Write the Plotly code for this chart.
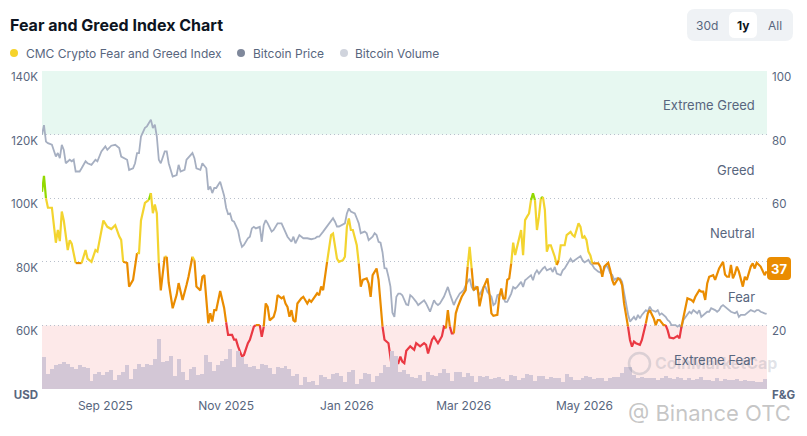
import plotly.graph_objects as go
import pandas as pd

# ---------------- data ----------------
START = pd.Timestamp("2025-07-31")

fg_days = [0, 1, 2, 3, 5, 7, 8, 9, 10, 11, 13, 14, 15, 16, 17, 20, 22, 23, 25, 27, 28,
           31, 33, 35, 37, 39, 40, 41, 43, 44, 46, 48, 49, 50, 52, 54, 55, 56, 57, 58, 59,
           60, 62, 63, 64, 66, 68, 69, 71, 73, 74, 76, 77, 78, 80, 81, 82, 84, 85, 86, 87,
           88, 90, 92, 93, 94, 96, 97, 98, 99, 101, 102, 104, 105, 107, 108, 110, 111, 112,
           113, 114, 115, 117, 118, 119, 121, 122, 123, 124, 125, 126, 127, 128, 129, 131,
           132, 134, 135, 136, 138, 139, 140, 141, 142, 143, 144, 146, 147, 148, 149, 150,
           152, 153, 154, 155, 156, 157, 159, 160, 161, 162, 164, 165, 166, 167, 169, 170,
           171, 172, 173, 175, 176, 177, 179, 180, 181, 182, 183, 184, 186, 188, 189, 191,
           193, 194, 195, 197, 198, 199, 200, 201, 202, 203, 204, 205, 206, 207, 208, 209,
           210, 212, 214, 215, 216, 217, 218, 220, 221, 223, 225, 226, 227, 228, 230, 231,
           232, 233, 234, 235, 236, 237, 238, 239, 241, 242, 243, 244, 245, 246, 247, 248,
           249, 250, 251, 252, 253, 254, 255, 256, 257, 259, 260, 261, 262, 264, 265, 267,
           268, 269, 271, 272, 273, 274, 275, 276, 277, 278, 279, 281, 282, 283, 284, 286,
           287, 288, 289, 291, 292, 293, 294, 295, 296, 297, 298, 299, 300, 302, 303, 304,
           305, 306, 307, 309, 310, 311, 312, 314, 315, 316, 317, 319, 321, 322, 323, 324,
           325, 326, 328, 329, 330, 332, 333, 334, 335, 336, 337, 339, 340, 341, 342, 344,
           345, 346, 347, 348, 349, 350, 351, 352, 353, 354, 355, 356, 358, 359, 360, 361,
           363, 364, 365, 366]
fg_values = [62, 67, 60, 57, 57, 46, 50, 46.5, 55.8, 53, 43.7, 46.8, 45.7, 43, 39.6, 39.6, 43.7, 41, 40, 43.7, 43.2,
             53, 51, 50.3, 51.5, 48, 46.9, 40, 39.6, 32.2, 34.3, 42.7, 42.7, 53, 58.5, 59.5, 61.6, 55.3, 58, 55.3, 39.6,
             31, 41.6, 41.6, 33.4, 25.4, 29.6, 33.3, 28, 32.7, 35.3, 41.6, 40.5, 32.2, 31, 35.3, 35.8, 20.7, 23.8, 21.2, 24.8,
             24.8, 30.8, 25.5, 21, 17, 17, 15.5, 15.5, 13.4, 10.2, 10.7, 14.4, 15.5, 19.6, 20.1, 20.1, 16.4, 19.6,
             26.9, 25.8, 21.6, 22.7, 24.8, 29.5, 28.5, 29, 26.9, 25.8, 22.7, 24.8, 21.6, 21.1, 26.9, 28.5,
             29, 26.9, 28, 27.4, 29, 30.1, 29.5, 32.2, 31.1, 36.3, 40, 48.4, 48.9, 44.7, 41, 40,
             40.5, 41.6, 51, 53.6, 50, 50, 45.2, 39.5, 32.2, 34.3, 34.8, 33.2, 29, 35.8, 37.9, 34.3,
             26.9, 19.6, 15.5, 14.4, 10.2, 5.5, 8.1, 8.1, 10.2, 8.6, 8.1, 12, 13.4, 12.3, 14.4, 13.4,
             14.4, 13.9, 11.2, 15.5, 16.4, 15.5, 14.4, 15.5, 16.6, 19.6, 19.1, 24.8, 19.6, 17.5, 17.5, 23.8,
             25.8, 29, 31.1, 38.5, 44.7, 38, 31.1, 32.2, 26, 31.9, 34.8, 30, 23.8, 23, 23.3, 29,
             31.6, 28.5, 28.5, 34.3, 34.8, 39.5, 46, 42.1, 47.4, 50, 42.1, 53.1, 54.2, 55.2, 59.4, 61.5,
             59.4, 50, 54.2, 60, 60.4, 56.3, 43.2, 45.2, 45.2, 41.6, 39, 40.5, 45.2, 45.2, 48.4, 49.4,
             48.4, 47.9, 52.1, 51, 47.4, 48, 46.9, 43.2, 42, 39.5, 39.5, 39.5, 38.5, 35.3, 38.5, 39.7,
             37.4, 34.3, 32.7, 34.8, 34.3, 32.7, 26.9, 22.7, 19.6, 15.4, 13.3, 14.9, 14.4, 13.9, 15.4, 18.5,
             20.6, 23.8, 24.8, 22.2, 20.1, 21.7, 21.7, 20.1, 20.1, 18.5, 16.2, 15.9, 16.7, 15.9, 19.6, 22.7,
             25.9, 28.5, 28, 27.4, 29, 31.1, 30.6, 30.6, 28, 33.2, 35.3, 35.8, 34.3, 36.3, 37.9, 40,
             36, 35.3, 35.3, 39, 34.8, 36.3, 38.5, 36.9, 34.3, 32.2, 35.3, 34.3, 38.5, 39.5, 37.9, 39.7,
             38.5, 36.9, 35.8, 37]

btc_days = [0, 1, 2, 3, 5, 7, 8, 9, 10, 11, 12, 14, 15, 16, 17, 19, 20, 22, 23, 25, 27, 28, 30,
            32, 33, 35, 37, 39, 40, 42, 43, 44, 46, 47, 48, 49, 50, 52, 53, 55, 56, 57, 58, 59,
            60, 62, 63, 64, 66, 68, 69, 70, 72, 73, 76, 77, 78, 80, 81, 83, 84, 85, 86, 87, 88,
            90, 91, 92, 93, 94, 95, 96, 97, 99, 100, 101, 102, 104, 105, 106, 107, 108, 110, 111,
            112, 113, 114, 116, 117, 118, 119, 121, 122, 123, 124, 126, 127, 128, 129, 130, 132,
            134, 136, 138, 139, 140, 142, 144, 145, 147, 148, 149, 150, 152, 153, 154, 155, 156,
            158, 159, 160, 161, 163, 164, 165, 167, 168, 169, 170, 171, 172, 173, 174, 175, 176,
            177, 178, 179, 180, 181, 182, 184, 185, 186, 187, 189, 190, 191, 193, 194, 195, 196,
            198, 199, 200, 201, 203, 204, 205, 206, 207, 208, 209, 211, 212, 213, 214, 216, 217,
            218, 219, 220, 221, 223, 224, 225, 227, 228, 229, 230, 232, 233, 234, 235, 237, 238,
            239, 240, 242, 243, 244, 245, 247, 248, 249, 250, 251, 253, 254, 255, 257, 258, 259,
            260, 262, 263, 264, 266, 267, 268, 269, 271, 272, 273, 274, 275, 276, 277, 278, 279,
            281, 283, 284, 285, 286, 287, 288, 289, 290, 292, 293, 294, 295, 296, 297, 299, 300,
            301, 302, 303, 305, 306, 307, 308, 310, 311, 312, 313, 315, 316, 317, 318, 320, 321,
            322, 323, 324, 326, 327, 328, 329, 331, 332, 333, 334, 336, 337, 338, 340, 341, 342,
            343, 344, 346, 347, 348, 350, 351, 352, 353, 355, 356, 357, 358, 360, 361, 362, 363,
            365, 366]
btc_price_k = [120, 123, 117.8, 117.3, 116.8, 113.1, 114.2, 112.6, 116.8, 115.2, 111, 112.1, 111.6, 112.1, 108.4, 108.4, 109.4, 111.6, 111, 110.5, 112.1, 111.6, 114.7,
               116.3, 115.2, 116.5, 116.8, 115.8, 113.1, 112.6, 112.1, 108.9, 109.4, 111, 114.2, 114.2, 119.4, 122.1, 122.6, 124.7, 122.1, 123.1, 119.4, 112.1,
               111, 114.7, 114.7, 111, 106.8, 107.3, 110.5, 108.4, 108.9, 112.1, 114.2, 112.6, 109.4, 108.9, 111, 109.4, 102.6, 103.7, 101.6, 103.2, 103.2,
               105.2, 102.6, 100.8, 97, 95, 95.2, 93, 92.6, 89.9, 86.8, 84.7, 85.3, 87.4, 87.9, 90.5, 91, 90.5, 91, 86.3,
               91.6, 93.1, 92.1, 89.5, 90, 91.1, 92.1, 92.1, 90.5, 89, 87.9, 86.3, 87.9, 85.8, 87.4, 88.4, 87.4,
               87.4, 87.1, 87.4, 87.9, 87.9, 89.5, 91.1, 92.1, 93.7, 92.6, 91.1, 91.1, 91.6, 92.1, 95.2, 96.8, 95.8,
               95.2, 93.7, 92.1, 89, 89.5, 89, 86.8, 87.9, 89, 88.4, 86.3, 86, 83, 78, 77.9, 75.3, 72.2,
               64, 62.7, 69, 70, 70, 69.5, 66.6, 66.4, 69.5, 69, 67.4, 66.4, 66.9, 67.9, 66.9, 65.3, 64.3,
               67.9, 66.9, 66.4, 66.9, 69, 70.5, 72.1, 70, 67.9, 66.4, 67.9, 70, 70.5, 71.1, 72.6, 74.7, 72.1,
               71.1, 72.1, 71.1, 69.5, 72.1, 72.1, 70.5, 69, 66.4, 66.9, 69.5, 70, 68.5, 67.4, 67.4, 70, 72.1,
               71.6, 72.1, 73.7, 72.1, 74.2, 74.7, 75.8, 74.2, 76.3, 77.3, 76.3, 77.9, 78.4, 77.3, 77.9, 76.8, 78.4,
               76.3, 75.8, 77.3, 77.9, 80, 81, 80, 80.5, 81.6, 81.8, 80.5, 79.8, 80.2, 80.6, 79.5, 79, 77.9,
               76.9, 76.4, 77.9, 79, 78, 76.4, 75.9, 74.3, 74.8, 74.8, 73.7, 70.1, 66, 63.5, 61.2, 62.7, 61.7,
               63.3, 62.2, 63.3, 64.8, 64.3, 65.9, 64.8, 64.3, 64.8, 63.3, 63.8, 62.7, 61.7, 61.2, 60.1, 60.1, 59.6,
               60.1, 59.1, 61.7, 63.3, 64.3, 63.8, 64.8, 63.8, 64.8, 62.7, 63.3, 64.3, 64.3, 65.4, 64.8, 64.3, 64.8,
               65.9, 66.4, 65.4, 64.8, 64.3, 63.8, 64.3, 62.7, 63.3, 63.3, 63.8, 64.3, 64.8, 64.3, 64.8, 64.8, 64.3,
               63.8, 63.6]

# Bitcoin volume, $B, one value per 2-day bucket starting at START
vol_values = [32, 15, 20, 24, 25, 27, 25, 22, 20, 24, 22, 21, 8, 15, 17, 14, 17, 19, 9, 14,
              17, 24, 10, 20, 25, 22, 25, 24, 30, 50, 27, 28, 33, 13, 30, 17, 9, 20, 22, 14,
              15, 34, 27, 18, 24, 28, 30, 40, 22, 38, 32, 25, 22, 23, 20, 25, 24, 21, 15, 22,
              21, 23, 20, 13, 15, 4, 12, 7, 8, 4, 14, 12, 10, 15, 16, 13, 7, 17, 19, 5,
              10, 16, 15, 7, 13, 16, 24, 22, 38, 33, 17, 19, 15, 12, 11, 14, 8, 17, 14, 13,
              16, 20, 16, 8, 17, 17, 12, 16, 13, 7, 13, 12, 13, 10, 11, 12, 10, 8, 14, 13,
              9, 11, 15, 14, 8, 13, 13, 10, 12, 11, 11, 7, 15, 12, 9, 9, 11, 13, 12, 10,
              11, 11, 8, 11, 12, 12, 16, 22, 22, 14, 11, 12, 11, 11, 11, 9, 11, 13, 11, 10,
              12, 11, 9, 11, 9, 10, 12, 9, 9, 8, 11, 8, 10, 9, 9, 10, 8, 9, 8, 8,
              7, 7, 10]

x_tick_dates = ["2025-09-01", "2025-11-01", "2026-01-01", "2026-03-01", "2026-05-01"]
x_tick_labels = ["Sep 2025", "Nov 2025", "Jan 2026", "Mar 2026", "May 2026"]
price_ticks = [40000, 60000, 80000, 100000, 120000, 140000]
price_tick_labels = ["<b>USD</b>", "60K", "80K", "100K", "120K", "140K"]
fg_ticks = [0, 20, 60, 80, 100]          # the 40 label sits under the "37" badge
fg_tick_labels = ["<b>F&G</b>", "20", "60", "80", "100"]
zone_names = ["Extreme Fear", "Fear", "Neutral", "Greed", "Extreme Greed"]
zone_label_pos = [9, 29, 49, 69, 89.3]
latest_fg = 37

# ---------------- styling ----------------
FONT = "Inter"
TXT = "#58667e"
C_GREEN, C_YELLOW, C_ORANGE, C_RED = "#93d900", "#f3d42f", "#ea8c00", "#ea3943"
C_PRICE = "#a6afc1"
C_VOL = "#d3c7d6"

W, H = 807, 436
ML, MR, MT, MB = 42, 40, 71, 47
PW, PH = W - ML - MR, H - MT - MB


def px(x, y):
    return (x - ML) / PW, (H - MB - y) / PH


def rrect(x0, y0, x1, y1, r):
    pts = [("M", x0 + r, y0), ("L", x1 - r, y0), ("Q", x1, y0, x1, y0 + r),
           ("L", x1, y1 - r), ("Q", x1, y1, x1 - r, y1), ("L", x0 + r, y1),
           ("Q", x0, y1, x0, y1 - r), ("L", x0, y0 + r), ("Q", x0, y0, x0 + r, y0)]
    out = []
    for p in pts:
        cmd, coords = p[0], p[1:]
        s = []
        for i in range(0, len(coords), 2):
            a, b = px(coords[i], coords[i + 1])
            s.append(f"{a:.5f},{b:.5f}")
        out.append(cmd + " " + " ".join(s))
    return " ".join(out) + " Z"


def band_color(v):
    if v >= 60:
        return C_GREEN
    if v >= 40:
        return C_YELLOW
    if v >= 20:
        return C_ORANGE
    return C_RED


fg_dates = [START + pd.Timedelta(days=d) for d in fg_days]
btc_dates = [START + pd.Timedelta(days=d) for d in btc_days]
btc_price = [v * 1000 for v in btc_price_k]
vol_dates = [START + pd.Timedelta(days=2 * k + 1) for k in range(len(vol_values))]

fig = go.Figure()

fig.add_trace(go.Bar(x=vol_dates, y=vol_values, yaxis="y3", marker_color=C_VOL,
                     marker_line_width=0, width=2 * 86400000, hoverinfo="skip",
                     showlegend=False))

fig.add_trace(go.Scatter(x=btc_dates, y=btc_price, mode="lines", yaxis="y",
                         line=dict(color=C_PRICE, width=1.8), hoverinfo="skip",
                         showlegend=False))

# F&G line coloured by zone (runs of segments of the same colour)
seg_colors = [band_color((fg_values[i] + fg_values[i + 1]) / 2) for i in range(len(fg_values) - 1)]
start = 0
for i in range(1, len(seg_colors) + 1):
    if i == len(seg_colors) or seg_colors[i] != seg_colors[start]:
        fig.add_trace(go.Scatter(x=fg_dates[start:i + 1], y=fg_values[start:i + 1],
                                 mode="lines", yaxis="y2",
                                 line=dict(color=seg_colors[start], width=2.2),
                                 hoverinfo="skip", showlegend=False))
        start = i

shapes = [
    dict(type="rect", xref="paper", yref="y2", x0=0, x1=1, y0=80, y1=100,
         fillcolor="#e7f8f1", line_width=0, layer="below"),
    dict(type="rect", xref="paper", yref="y2", x0=0, x1=1, y0=0, y1=20,
         fillcolor="#fde9e9", line_width=0, layer="below"),
    # range buttons
    dict(type="path", xref="paper", yref="paper", path=rrect(687, 9, 793, 41, 8),
         fillcolor="#eff2f5", line_width=0, layer="above"),
    dict(type="path", xref="paper", yref="paper", path=rrect(729, 12, 757, 38, 6),
         fillcolor="#ffffff", line_width=0, layer="above"),
    # badge
    dict(type="path", xref="paper", yref="paper", path=rrect(767, 257, 791, 280, 4),
         fillcolor=C_ORANGE, line_width=0, layer="above"),
]

# legend dots
for cx, col in [(14, "#f6d32b"), (241, "#7f889b"), (344, "#d0d4dd")]:
    a0, b0 = px(cx - 4, 49)
    a1, b1 = px(cx + 4, 57)
    shapes.append(dict(type="circle", xref="paper", yref="paper", x0=a0, x1=a1,
                       y0=b1, y1=b0, fillcolor=col, line_width=0))

# faint CoinMarketCap logo ring
a0, b0 = px(629, 353)
a1, b1 = px(650, 374)
shapes.append(dict(type="circle", xref="paper", yref="paper", x0=a0, x1=a1, y0=b1, y1=b0,
                   line=dict(color="rgba(120,130,150,0.25)", width=2.5), fillcolor="rgba(0,0,0,0)"))

ann = []


def add_text(text, x, y, size, color, xanchor="left", bold=False, yanchor="middle"):
    a, b = px(x, y)
    ann.append(dict(text=f"<b>{text}</b>" if bold else text, x=a, y=b, xref="paper", yref="paper",
                    xanchor=xanchor, yanchor=yanchor, showarrow=False,
                    font=dict(family=FONT, size=size, color=color)))


add_text("Fear and Greed Index Chart", 8, 25, 16, "#0d1421", bold=True)
add_text("CMC Crypto Fear and Greed Index", 24, 53, 12, TXT)
add_text("Bitcoin Price", 251, 53, 12, TXT)
add_text("Bitcoin Volume", 353, 53, 12, TXT)
add_text("30d", 707, 25, 12, TXT, xanchor="center")
add_text("1y", 743, 25, 12, "#0d1421", xanchor="center", bold=True)
add_text("All", 775, 25, 12, TXT, xanchor="center")
add_text(str(latest_fg), 779, 268.5, 13, "#ffffff", xanchor="center", bold=True)
add_text("CoinMarketCap", 653, 363, 16, "rgba(120,130,150,0.22)", bold=True)
add_text("@ Binance OTC", 626, 413, 22, "rgba(160,160,160,0.6)")

for name, v in zip(zone_names, zone_label_pos):
    ann.append(dict(text=name, x=(757 - ML) / PW, y=v, xref="paper", yref="y2",
                    xanchor="right", yanchor="middle", showarrow=False,
                    font=dict(family=FONT, size=13, color=TXT)))

fig.update_layout(
    width=W, height=H, margin=dict(l=ML, r=MR, t=MT, b=MB, autoexpand=False),
    paper_bgcolor="#ffffff", plot_bgcolor="rgba(0,0,0,0)",
    font=dict(family=FONT, color=TXT, size=12),
    showlegend=False, hovermode=False, bargap=0,
    shapes=shapes, annotations=ann,
    xaxis=dict(type="date", automargin=False,
               range=[START, START + pd.Timedelta(hours=366.2 * 24)],
               tickvals=x_tick_dates, ticktext=x_tick_labels,
               showgrid=False, zeroline=False, showline=False, ticks="",
               ticklabelstandoff=8,
               tickfont=dict(family=FONT, size=12, color=TXT)),
    yaxis=dict(range=[40000, 140000], tickvals=price_ticks, ticktext=price_tick_labels,
               automargin=False,
               showgrid=True, gridcolor="#b9c0cc", griddash="1px,3px", gridwidth=1,
               zeroline=False, showline=False, ticks="", ticklabelshift=6,
               ticklabelstandoff=3,
               tickfont=dict(family=FONT, size=11.5, color=TXT)),
    yaxis2=dict(range=[0, 100], overlaying="y", side="right", automargin=False,
                tickvals=fg_ticks, ticktext=fg_tick_labels, showgrid=False,
                zeroline=False, showline=False, ticks="", ticklabelshift=6,
                ticklabelstandoff=4,
                tickfont=dict(family=FONT, size=11.5, color=TXT)),
    yaxis3=dict(range=[0, PH], overlaying="y", visible=False, automargin=False),
)

fig.write_html("out.html", config={"displayModeBar": False},
               post_script="document.body.style.margin='0px';document.body.style.overflow='hidden';")
